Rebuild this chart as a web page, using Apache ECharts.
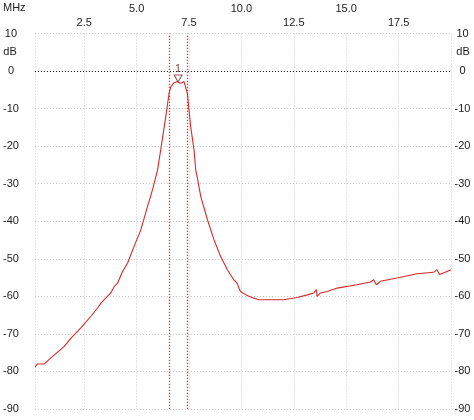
<!DOCTYPE html>
<html>
<head>
<meta charset="utf-8">
<script src="https://cdn.jsdelivr.net/npm/echarts@6/dist/echarts.min.js"></script>
<style>
html,body{margin:0;padding:0;background:#fff;}
#c{width:474px;height:420px;}
</style>
</head>
<body>
<div id="c"></div>
<script>
// Frequency (MHz) and level (dB) of the trace
const freqMHz = [0.15,0.28,0.60,0.91,1.55,1.87,2.34,2.82,3.14,3.30,3.77,3.93,4.09,4.33,4.57,4.88,5.20,5.52,5.76,5.91,6.00,6.15,6.39,6.55,6.63,6.79,6.95,7.05,7.15,7.26,7.34,7.42,7.50,7.58,7.74,7.82,7.90,8.06,8.38,8.69,9.01,9.33,9.49,9.64,9.80,9.88,9.96,10.28,10.44,10.83,12.02,12.66,13.14,13.45,13.58,13.61,13.77,14.09,14.57,15.52,16.15,16.31,16.44,16.63,17.42,18.38,19.17,19.33,19.45,19.64,20.0];
const levelDb = [-78.8,-78.0,-78.0,-76.4,-73.3,-71.1,-68.4,-65.3,-63.1,-61.8,-59.1,-57.4,-56.5,-53.4,-51.1,-46.7,-42.3,-36.1,-31.6,-28.3,-26.3,-21.0,-12.2,-5.9,-4.2,-3.1,-2.8,-3.2,-3.2,-2.8,-3.3,-5.9,-10.4,-14.8,-21.0,-26.3,-28.5,-33.4,-39.6,-44.9,-49.4,-52.9,-54.3,-55.6,-56.5,-57.8,-58.7,-59.8,-60.2,-60.9,-60.9,-60.3,-59.6,-59.1,-58.2,-60.0,-59.1,-58.7,-57.8,-56.9,-56.2,-55.6,-56.9,-56.0,-55.1,-54.0,-53.6,-52.9,-54.2,-53.8,-52.9];
// axes
const xMin = 0.15, xMax = 20;
const xLabelsLow = [2.5, 7.5, 12.5, 17.5];
const xLabelsHigh = [5.0, 10.0, 15.0];
const xGridValues = [0.15, 2.5, 5.0, 7.5, 10.0, 12.5, 15.0, 17.5, 20];
const yMin = -90, yMax = 10, yStep = 10;
const refLevel = 0;
// markers
const markerFreqs = [6.58, 7.44];
const marker1 = [6.98, -2.9];
const marker1Label = '1';

const FONT = '"Liberation Sans", Arial, sans-serif';
const txt = '#222';
const gridColor = '#c8c8c8';

const chart = echarts.init(document.getElementById('c'));
const data = freqMHz.map((f, i) => [f, levelDb[i]]);

chart.setOption({
  animation: false,
  backgroundColor: '#fff',
  grid: { left: 34, right: 23, top: 33.5, bottom: 11, containLabel: false },
  xAxis: [
    {
      type: 'value', position: 'top', min: xMin, max: xMax,
      axisLine: { show: false },
      axisTick: { show: false, customValues: xGridValues },
      axisLabel: { customValues: xLabelsLow, formatter: v => v.toFixed(1), margin: 5,
        color: txt, fontSize: 11, fontFamily: FONT },
      splitLine: { show: true, lineStyle: { color: gridColor, type: [1, 2], width: 1 } }
    },
    {
      type: 'value', position: 'top', min: xMin, max: xMax,
      axisLine: { show: false },
      axisTick: { show: false },
      axisLabel: { customValues: xLabelsHigh, formatter: v => v.toFixed(1), margin: 19,
        color: txt, fontSize: 11, fontFamily: FONT },
      splitLine: { show: false }
    }
  ],
  yAxis: [
    {
      type: 'value', position: 'left', min: yMin, max: yMax, interval: yStep,
      axisLine: { show: false }, axisTick: { show: false },
      axisLabel: { align: 'center', margin: 24, color: txt, fontSize: 11, fontFamily: FONT },
      splitLine: { show: true, lineStyle: { color: gridColor, type: [1, 2], width: 1 } }
    },
    {
      type: 'value', position: 'right', min: yMin, max: yMax, interval: yStep,
      axisLine: { show: false }, axisTick: { show: false },
      axisLabel: { align: 'center', margin: 11.5, color: txt, fontSize: 11, fontFamily: FONT },
      splitLine: { show: false }
    }
  ],
  graphic: [
    { type: 'text', left: 3, top: 2, style: { text: 'MHz', fill: txt, font: '11px ' + FONT } },
    { type: 'text', x: 10, y: 52, style: { text: 'dB', fill: txt, font: '11px ' + FONT, align: 'center', verticalAlign: 'middle' } },
    { type: 'text', x: 463, y: 52, style: { text: 'dB', fill: txt, font: '11px ' + FONT, align: 'center', verticalAlign: 'middle' } }
  ],
  series: [
    {
      type: 'line', data: [], symbol: 'none', z: 3,
      markLine: {
        silent: true, symbol: 'none', label: { show: false },
        lineStyle: { color: '#111', type: [1, 2], width: 1 },
        data: [{ yAxis: refLevel }]
      }
    },
    {
      type: 'line', data: [], symbol: 'none', z: 3, color: '#e03030',
      markLine: {
        silent: true, symbol: 'none', label: { show: false },
        lineStyle: { color: '#e03030', type: [1.2, 1.8], width: 1.3, opacity: 1 },
        data: markerFreqs.map(f => ({ xAxis: f }))
      }
    },
    {
      type: 'line', data: data, showSymbol: false, symbol: 'none',
      lineStyle: { color: '#d42a2a', width: 1.1 },
      z: 5
    },
    {
      type: 'scatter', data: [marker1], symbol: 'triangle', symbolRotate: 180,
      symbolSize: [8, 7], symbolOffset: [0, -3.5], z: 6,
      itemStyle: { color: '#fff', borderColor: '#7a3030', borderWidth: 1 },
      label: { show: true, position: 'top', distance: 0, formatter: marker1Label,
        color: '#5a2020', fontSize: 11, fontFamily: FONT }
    }
  ]
});
</script>
</body>
</html>
